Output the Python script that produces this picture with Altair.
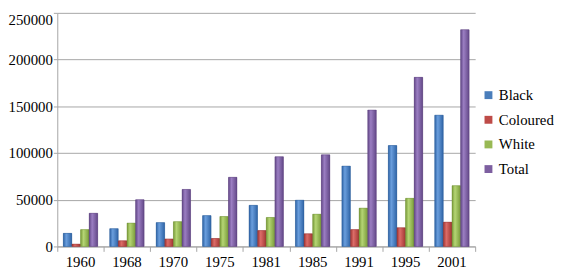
import altair as alt
import pandas as pd

years = ["1960", "1968", "1970", "1975", "1981", "1985", "1991", "1995", "2001"]
series = ["Black", "Coloured", "White", "Total"]
black = [14000, 19000, 25500, 33000, 44000, 49500, 86000, 108000, 140500]
coloured = [2500, 6000, 8000, 8500, 17000, 13500, 18000, 20000, 26000]
white = [18000, 25000, 26500, 32000, 31000, 34500, 41000, 51500, 65000]
total = [35500, 50000, 61000, 74000, 96000, 98000, 146000, 181000, 232000]
colors = ["#4A7EBB", "#BE4B48", "#98B954", "#7D5FA0"]
dark = ["#2F64A6", "#A23633", "#7A9C3A", "#634888"]
light = ["#6A9EDD", "#DC6C68", "#B5D574", "#9B7EC2"]
edge = ["#2A5A95", "#8E2F2D", "#6B8A33", "#573D78"]
y_ticks = [0, 50000, 100000, 150000, 200000, 250000]
boundaries = list(range(len(years) + 1))

rows = []
for name, vals in zip(series, [black, coloured, white, total]):
    for yr, v in zip(years, vals):
        rows.append({"year": yr, "series": name, "value": v})
df = pd.DataFrame(rows)

FONT = "Liberation Serif"
GRAY = "#A6A6A6"

x_enc = alt.X("year:N", sort=years, title=None,
              scale=alt.Scale(paddingInner=0.26, paddingOuter=0.13),
              axis=alt.Axis(orient="bottom", labelAngle=0, ticks=False, domain=True,
                            domainColor=GRAY, labelPadding=8, grid=False,
                            labelFont=FONT, labelFontSize=15))
xo_enc = alt.XOffset("series:N", sort=series,
                     scale=alt.Scale(domain=series, paddingInner=0.02))
y_enc = alt.Y("value:Q", title=None,
              scale=alt.Scale(domain=[0, 250000], nice=False),
              axis=alt.Axis(values=y_ticks, format="d", tickSize=4, tickColor=GRAY,
                            domainColor=GRAY, gridColor=GRAY, labelPadding=1,
                            labelFont=FONT, labelFontSize=15,
                            labelOffset=alt.condition("datum.value == 250000",
                                                      alt.value(7), alt.value(0))))

bars = alt.Chart(df).mark_bar().encode(
    x=x_enc, xOffset=xo_enc, y=y_enc,
    color=alt.Color("series:N", sort=series, title=None,
                    scale=alt.Scale(domain=series, range=colors),
                    legend=alt.Legend(orient="none", legendX=430, legendY=76,
                                      symbolType="square", symbolSize=64,
                                      symbolStrokeWidth=0, labelFont=FONT,
                                      labelFontSize=15, labelColor="#000000",
                                      labelLimit=200, padding=0,
                                      rowPadding=9, labelOffset=3)),
)

overlays = []
for name, d, l, e in zip(series, dark, light, edge):
    grad = alt.Gradient(gradient="linear", x1=0, x2=1, y1=0, y2=0,
                        stops=[alt.GradientStop(color=d, offset=0),
                               alt.GradientStop(color=l, offset=0.35),
                               alt.GradientStop(color=d, offset=1)])
    overlays.append(
        alt.Chart(df).transform_filter(alt.datum.series == name)
        .mark_bar(fill=grad, stroke=e, strokeWidth=0.6, strokeOpacity=0.7)
        .encode(x=x_enc, xOffset=xo_enc, y=y_enc)
    )

inner = alt.layer(bars, *overlays)

tick_df = pd.DataFrame({"t": [0, len(years)]})
ticks = alt.Chart(tick_df).mark_point(opacity=0).encode(
    x=alt.X("t:Q", title=None,
            scale=alt.Scale(domain=[0, len(years)], nice=False, zero=False),
            axis=alt.Axis(orient="bottom", values=boundaries, labels=False, domain=False,
                          grid=False, tickSize=5, tickColor=GRAY)),
    y=alt.value(0),
)

chart = alt.layer(inner, ticks).resolve_scale(x="independent").properties(
    width=424, height=237,
    padding=0,
).configure(font=FONT).configure_axis(
    labelFont=FONT, labelFontSize=15, labelColor="#000000"
).configure_legend(
    labelFont=FONT, labelFontSize=15, labelColor="#000000"
).configure_view(stroke=None)

chart.save("out.html", embed_options={"renderer": "svg", "actions": False})
